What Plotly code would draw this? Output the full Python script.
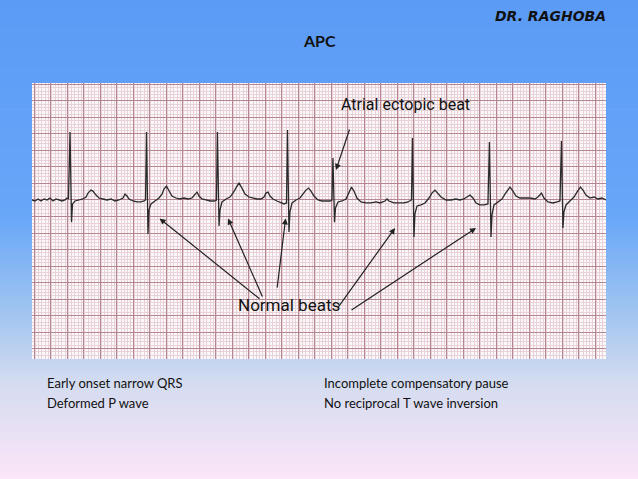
"""plot.py - APC (atrial premature complex) ECG strip on a slide background."""

import plotly.graph_objects as go

# ---- ECG trace (time in s, amplitude in mV) ----
ecg_time = [
    0.000, 0.036, 0.073, 0.109, 0.145, 0.182, 0.218, 0.255, 0.291, 0.327,
    0.364, 0.400, 0.424, 0.442, 0.461, 0.479, 0.491, 0.521, 0.570, 0.618,
    0.655, 0.679, 0.715, 0.739, 0.776, 0.812, 0.861, 0.909, 0.958, 1.006,
    1.055, 1.103, 1.127, 1.152, 1.176, 1.224, 1.273, 1.321, 1.358, 1.376,
    1.388, 1.406, 1.418, 1.442, 1.491, 1.539, 1.576, 1.600, 1.630, 1.661,
    1.697, 1.745, 1.794, 1.842, 1.891, 1.939, 1.976, 2.000, 2.024, 2.061,
    2.109, 2.158, 2.206, 2.236, 2.248, 2.267, 2.279, 2.303, 2.352, 2.400,
    2.436, 2.473, 2.509, 2.545, 2.582, 2.630, 2.679, 2.727, 2.776, 2.812,
    2.836, 2.861, 2.885, 2.921, 2.970, 3.018, 3.055, 3.085, 3.097, 3.115,
    3.127, 3.152, 3.200, 3.248, 3.285, 3.321, 3.352, 3.382, 3.418, 3.467,
    3.515, 3.564, 3.612, 3.636, 3.648, 3.667, 3.679, 3.709, 3.758, 3.806,
    3.842, 3.873, 3.903, 3.939, 3.988, 4.048, 4.109, 4.170, 4.218, 4.279,
    4.303, 4.327, 4.388, 4.448, 4.509, 4.558, 4.600, 4.612, 4.630, 4.642,
    4.667, 4.715, 4.764, 4.812, 4.848, 4.885, 4.921, 4.958, 5.018, 5.079,
    5.139, 5.188, 5.236, 5.273, 5.309, 5.345, 5.382, 5.430, 5.479, 5.527,
    5.545, 5.564, 5.576, 5.600, 5.648, 5.697, 5.733, 5.770, 5.794, 5.830,
    5.867, 5.915, 5.976, 6.036, 6.097, 6.133, 6.176, 6.206, 6.255, 6.315,
    6.364, 6.400, 6.418, 6.436, 6.448, 6.473, 6.521, 6.570, 6.606, 6.648,
    6.679, 6.715, 6.764, 6.812, 6.861, 6.909, 6.958,
]
ecg_mv = [
    0.00, -0.03, 0.03, -0.03, 0.03, 0.00, 0.06, -0.03, 0.03, 0.00,
    -0.03, 0.00, 0.06, 0.03, 2.06, -0.67, -0.12, -0.03, 0.00, 0.03,
    0.09, 0.21, 0.30, 0.27, 0.15, 0.06, 0.03, 0.00, 0.03, -0.03,
    0.00, 0.06, 0.18, 0.12, 0.03, -0.03, -0.06, -0.06, -0.03, 0.00,
    2.06, -1.03, -0.30, -0.12, -0.03, 0.06, 0.18, 0.33, 0.42, 0.30,
    0.12, 0.06, 0.03, 0.06, 0.03, 0.06, 0.18, 0.24, 0.12, 0.03,
    0.00, -0.03, -0.03, 0.00, 2.06, -0.79, -0.30, -0.06, 0.03, 0.09,
    0.21, 0.39, 0.52, 0.36, 0.18, 0.09, 0.06, 0.03, 0.03, 0.09,
    0.21, 0.24, 0.12, 0.03, -0.03, -0.09, -0.12, -0.09, 2.12, -0.97,
    -0.36, -0.09, 0.00, 0.06, 0.18, 0.30, 0.36, 0.27, 0.12, 0.00,
    -0.03, -0.03, -0.03, 0.00, 1.27, -0.67, -0.24, -0.06, -0.03, 0.03,
    0.24, 0.39, 0.27, 0.06, -0.06, -0.09, -0.09, -0.06, -0.09, -0.03,
    0.03, -0.03, -0.09, -0.09, -0.09, -0.06, 0.00, 1.88, -1.12, -0.42,
    -0.18, -0.15, -0.09, 0.06, 0.21, 0.30, 0.21, 0.09, 0.00, 0.00,
    0.03, 0.00, 0.03, 0.09, 0.15, 0.06, -0.09, -0.15, -0.15, -0.12,
    1.76, -1.12, -0.45, -0.15, -0.06, 0.03, 0.18, 0.33, 0.39, 0.27,
    0.12, 0.06, 0.06, 0.06, 0.03, 0.09, 0.21, 0.06, -0.06, -0.09,
    -0.06, -0.03, 1.79, -0.85, -0.36, -0.15, -0.03, 0.09, 0.24, 0.39,
    0.30, 0.15, 0.06, 0.09, 0.03, 0.06, 0.00,
]

# ---- labels ----
title_text = "APC"
author_text = "DR. RAGHOBA"
ectopic_label = "Atrial ectopic beat"
normal_label = "Normal beats"
notes_left = ["Early onset narrow QRS", "Deformed P wave"]
notes_right = ["Incomplete compensatory pause", "No reciprocal T wave inversion"]

# arrow tips on the strip (s, mV) and where the arrows start
ectopic_tip = (3.685, 0.91)
ectopic_tail = (3.855, 2.18)
normal_tips_t = [1.547, 2.376, 3.074, 4.400, 5.382]
normal_tips_mv = [-0.56, -0.56, -0.56, -0.85, -0.85]
normal_tails_t = [2.776, 2.800, 2.970, 3.697, 3.855]
normal_tails_mv = [-3.03, -2.97, -2.70, -3.30, -3.36]

WIDTH, HEIGHT = 638, 479
NARROW = "Roboto, Liberation Sans Narrow, sans-serif"
BODY = "Lato, Carlito, Calibri, sans-serif"
PAPER_X = [32 / WIDTH, 606 / WIDTH]
PAPER_Y = [1 - 359 / HEIGHT, 1 - 83 / HEIGHT]

# background gradient stops (position from top, rgb)
_stops = [
    (0.00, (91, 155, 246)),
    (0.45, (104, 166, 248)),
    (0.65, (160, 196, 240)),
    (0.80, (212, 220, 240)),
    (1.00, (252, 229, 248)),
]


def _grad_color(f):
    for (p0, c0), (p1, c1) in zip(_stops, _stops[1:]):
        if p0 <= f <= p1:
            k = (f - p0) / (p1 - p0)
            return "rgb(%d,%d,%d)" % tuple(round(a + (b - a) * k) for a, b in zip(c0, c1))
    return "rgb(%d,%d,%d)" % _stops[-1][1]


fig = go.Figure()

fig.add_trace(
    go.Scatter(
        x=ecg_time,
        y=ecg_mv,
        mode="lines",
        line=dict(color="#2a2a2a", width=1.3),
        hoverinfo="skip",
        showlegend=False,
    )
)

# slide background as thin stripes
n_strips = 120
shapes = []
for i in range(n_strips):
    y_top = 1 - i / n_strips
    y_bot = 1 - (i + 1) / n_strips - 0.002
    shapes.append(
        dict(
            type="rect", xref="paper", yref="paper",
            x0=0, x1=1, y0=max(y_bot, 0), y1=y_top,
            fillcolor=_grad_color((i + 0.5) / n_strips),
            line=dict(width=0), layer="below",
        )
    )
# ECG paper sheet on top of the gradient (grid lines are drawn over it)
shapes.append(
    dict(
        type="rect", xref="paper", yref="paper",
        x0=PAPER_X[0], x1=PAPER_X[1], y0=PAPER_Y[0], y1=PAPER_Y[1],
        fillcolor="#fcf7f8", line=dict(width=0), layer="below",
    )
)

annotations = [
    dict(text="<b>%s</b>" % title_text, x=319 / WIDTH, y=1 - 40 / HEIGHT,
         xref="paper", yref="paper", xanchor="center", yanchor="middle",
         showarrow=False, font=dict(family=BODY, size=16, color="#111111")),
    dict(text="<b><i>%s</i></b>" % author_text, x=550 / WIDTH, y=1 - 16 / HEIGHT,
         xref="paper", yref="paper", xanchor="center", yanchor="middle",
         showarrow=False, font=dict(family="DejaVu Sans", size=14, color="#111111")),
    dict(text=ectopic_label, x=4.533, y=2.88, xref="x", yref="y",
         xanchor="center", yanchor="middle",
         showarrow=False, font=dict(family=NARROW, size=16, color="#111111")),
    dict(text=normal_label, x=3.115, y=-3.18, xref="x", yref="y",
         xanchor="center", yanchor="middle",
         showarrow=False, font=dict(family=NARROW, size=17, color="#111111")),
    dict(text="", x=ectopic_tip[0], y=ectopic_tip[1], ax=ectopic_tail[0], ay=ectopic_tail[1],
         xref="x", yref="y", axref="x", ayref="y", showarrow=True,
         arrowhead=2, arrowsize=1, arrowwidth=1.2, arrowcolor="#222222"),
]
for tx, ty, sx, sy in zip(normal_tips_t, normal_tips_mv, normal_tails_t, normal_tails_mv):
    annotations.append(
        dict(text="", x=tx, y=ty, ax=sx, ay=sy,
             xref="x", yref="y", axref="x", ayref="y", showarrow=True,
             arrowhead=2, arrowsize=1, arrowwidth=1.2, arrowcolor="#222222")
    )
for col_x, notes in ((45, notes_left), (322, notes_right)):
    for k, line in enumerate(notes):
        annotations.append(
            dict(text=line, x=col_x / WIDTH, y=1 - (383 + 20 * k) / HEIGHT,
                 xref="paper", yref="paper", xanchor="left", yanchor="middle",
                 showarrow=False, font=dict(family=BODY, size=13, color="#111111"))
        )

fig.update_layout(
    width=WIDTH,
    height=HEIGHT,
    margin=dict(l=0, r=0, t=0, b=0),
    paper_bgcolor="#5b9bf6",
    plot_bgcolor="#fcf7f8",
    shapes=shapes,
    annotations=annotations,
    xaxis=dict(
        domain=PAPER_X,
        range=[0, 6.958],
        tick0=0.03, dtick=0.2,
        showgrid=True, gridcolor="#b58790", gridwidth=0.9,
        minor=dict(dtick=0.04, showgrid=True, gridcolor="#e6d2d8", gridwidth=0.7),
        showticklabels=False, zeroline=False, showline=False, ticks="",
        fixedrange=True,
    ),
    yaxis=dict(
        domain=PAPER_Y,
        range=[-4.818, 3.545],
        tick0=0.0, dtick=0.5,
        showgrid=True, gridcolor="#b58790", gridwidth=0.9,
        minor=dict(dtick=0.1, showgrid=True, gridcolor="#e6d2d8", gridwidth=0.7),
        showticklabels=False, zeroline=False, showline=False, ticks="",
        fixedrange=True,
    ),
    showlegend=False,
)

# the page body has a default 8px margin; drop it so the slide fills the window
fig.write_html(
    "out.html",
    config={"displayModeBar": False},
    post_script="document.body.style.margin='0';document.body.style.overflow='hidden';",
)
